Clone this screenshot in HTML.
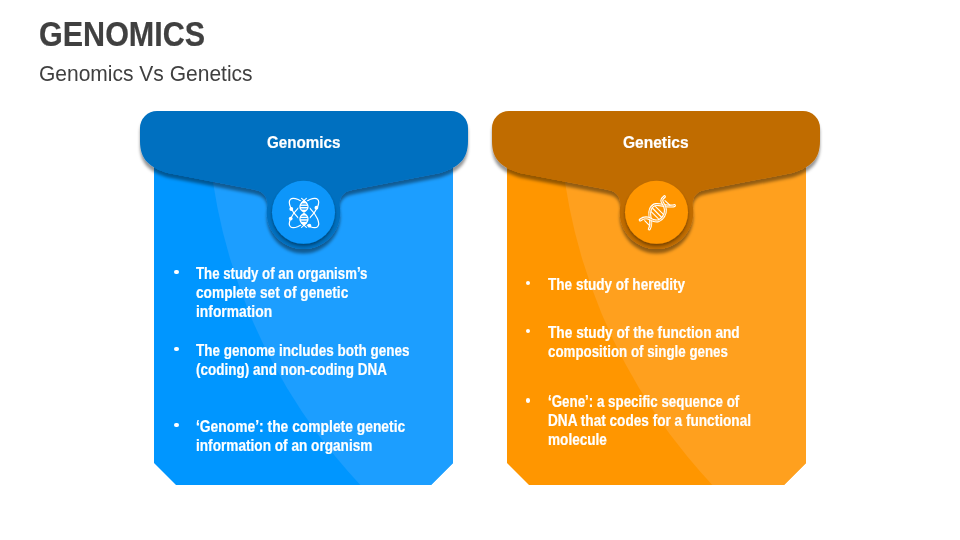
<!DOCTYPE html>
<html><head><meta charset="utf-8"><style>
html,body{margin:0;padding:0;background:#fff;}
body{width:960px;height:540px;position:relative;overflow:hidden;}
svg{position:absolute;left:0;top:0;}
.t{position:absolute;white-space:pre;font-family:"Liberation Sans",sans-serif;line-height:1;transform-origin:0 0;-webkit-text-stroke:0.2px currentColor;}
.b{position:absolute;width:4.8px;height:4.8px;border-radius:50%;background:#fff;}
</style></head><body>
<svg width="960" height="540" viewBox="0 0 960 540">
<defs>
<filter id="sh" x="-20%" y="-20%" width="140%" height="150%"><feDropShadow dx="0" dy="4.5" stdDeviation="1.8" flood-color="#000" flood-opacity="0.42"/></filter>
<filter id="sh2" x="-30%" y="-30%" width="160%" height="170%"><feDropShadow dx="0" dy="2.2" stdDeviation="1.6" flood-color="#000" flood-opacity="0.4"/></filter>
</defs>

<defs><clipPath id="clip0"><path d="M154,150 H453 V463 L431,485 H176 L154,463 Z"/></clipPath></defs>
<path d="M154,150 H453 V463 L431,485 H176 L154,463 Z" fill="#0096FF"/>
<circle cx="773.3" cy="96.8" r="566.8" fill="#1C9EFF" clip-path="url(#clip0)"/>
<path d="M157,111 H451 A17,17 0 0 1 468,128 V141 C468,160 458,167.5 440,173 L357,189 C343,191 339.6,196 339.6,205 A36.8,36.8 0 1 1 267.4,205 C267.4,196 264,191 251,189 L168,173 C150,167.5 140,160 140,141 V128 A17,17 0 0 1 157,111 Z" fill="#0070C0" filter="url(#sh)"/>
<circle cx="303.5" cy="212.3" r="31.5" fill="#0A96FA" filter="url(#sh2)"/>


<defs><clipPath id="clip352"><path d="M507,150 H806 V463 L784,485 H529 L507,463 Z"/></clipPath></defs>
<path d="M507,150 H806 V463 L784,485 H529 L507,463 Z" fill="#FF9600"/>
<circle cx="1125.3" cy="96.8" r="566.8" fill="#FFA01E" clip-path="url(#clip352)"/>
<path d="M509,111 H803 A17,17 0 0 1 820,128 V141 C820,160 810,167.5 792,173 L709,189 C696,191 692.6,196 692.6,205 A36.8,36.8 0 1 1 620.4,205 C620.4,196 617,191 604,189 L520,173 C502,167.5 492,160 492,141 V128 A17,17 0 0 1 509,111 Z" fill="#C06C00" filter="url(#sh)"/>
<circle cx="656.5" cy="212.3" r="31.5" fill="#FF9600" filter="url(#sh2)"/>

<g fill="none" stroke="#fff" stroke-width="1.2">
<ellipse cx="304" cy="213" rx="19.3" ry="7.6" transform="rotate(45 304 213)"/>
<ellipse cx="304" cy="213" rx="19.3" ry="7.6" transform="rotate(-45 304 213)"/>
</g>
<path d="M304,200.4 C310.2,203.5 310.2,209.7 304,212.8 C297.8,209.7 297.8,203.5 304,200.4 Z M304,212.8 C310.2,216 310.2,222.2 304,225.4 C297.8,222.2 297.8,216 304,212.8 Z" fill="#fff" stroke="#0A96FA" stroke-width="2.6"/>
<path d="M304,200.4 C310.2,203.5 310.2,209.7 304,212.8 C297.8,209.7 297.8,203.5 304,200.4 Z M304,212.8 C310.2,216 310.2,222.2 304,225.4 C297.8,222.2 297.8,216 304,212.8 Z" fill="#fff"/>
<defs><clipPath id="dnaclip"><path d="M304,202 C308.6,204.5 308.6,209 304,211.4 C299.4,209 299.4,204.5 304,202 Z M304,214.3 C308.6,216.8 308.6,221.2 304,223.8 C299.4,221.2 299.4,216.8 304,214.3 Z"/></clipPath></defs>
<g fill="#0A96FA" clip-path="url(#dnaclip)">
<rect x="299" y="203.4" width="10" height="1.1"/><rect x="299" y="205.9" width="10" height="1.1"/><rect x="299" y="208.5" width="10" height="1.1"/>
<rect x="299" y="215.6" width="10" height="1.1"/><rect x="299" y="218.1" width="10" height="1.1"/><rect x="299" y="220.7" width="10" height="1.1"/>
</g>
<g stroke="#fff" stroke-width="1.1" stroke-linecap="round">
<path d="M301.6,198.3 L306.4,202.6 M306.4,198.3 L301.6,202.6 M301.6,227.4 L306.4,223.2 M306.4,227.4 L301.6,223.2"/>
</g>
<g fill="#fff"><circle cx="291.3" cy="209" r="1.9"/><circle cx="316.4" cy="207.7" r="1.9"/><circle cx="290.7" cy="218.6" r="1.9"/><circle cx="309.4" cy="225.7" r="1.9"/></g>
<g fill="none" stroke-linecap="round" transform="translate(0.8,0)">
<path d="M648.5,229 C651,225 650,221 649.2,217 C648,211 650,205.5 655,204.6 C659,204 663,206 667,206 C670,206 672,206.5 673.6,205.6" stroke="#fff" stroke-width="3"/><path d="M648.5,229 C651,225 650,221 649.2,217 C648,211 650,205.5 655,204.6 C659,204 663,206 667,206 C670,206 672,206.5 673.6,205.6" stroke="#FF9600" stroke-width="0.8"/>
<path d="M639.4,220 C642,218 645.5,217.3 648.5,218.5 C651,220 654,221.5 657.5,220.8 C662,219.5 665,214 664.6,209.5 C664.3,205 661,203 661,200.5 C661,199 662.5,197.5 663.6,196.7" stroke="#fff" stroke-width="3"/><path d="M639.4,220 C642,218 645.5,217.3 648.5,218.5 C651,220 654,221.5 657.5,220.8 C662,219.5 665,214 664.6,209.5 C664.3,205 661,203 661,200.5 C661,199 662.5,197.5 663.6,196.7" stroke="#FF9600" stroke-width="0.8"/>
<path d="M664.2,200.6 L669.3,205.3 M643.9,220.6 L649,225.8 M652,208.5 L660.5,217 M650.6,211.8 L657.5,218.7 M654.8,206.6 L662.4,214.2" stroke="#fff" stroke-width="1.1"/>
</g>
</svg>
<div class="t" style="left:39.12px;top:17.28px;font-size:34.8px;font-weight:700;color:#404040;transform:scaleX(0.8770)">GENOMICS</div>
<div class="t" style="left:39.01px;top:64.06px;font-size:21.3px;font-weight:400;color:#404040;transform:scaleX(0.9860);-webkit-text-stroke:0">Genomics Vs Genetics</div>
<div class="t" style="left:266.57px;top:133.90px;font-size:16.4px;font-weight:700;color:#ffffff;transform:scaleX(0.9256)">Genomics</div>
<div class="t" style="left:623.45px;top:133.90px;font-size:16.4px;font-weight:700;color:#ffffff;transform:scaleX(0.9478)">Genetics</div>
<div class="t" style="left:196.20px;top:266.30px;font-size:15.6px;font-weight:700;color:#ffffff;transform:scaleX(0.8480)">The study of an organism’s</div>
<div class="t" style="left:196.02px;top:284.70px;font-size:15.6px;font-weight:700;color:#ffffff;transform:scaleX(0.8785)">complete set of genetic</div>
<div class="t" style="left:196.31px;top:303.50px;font-size:15.6px;font-weight:700;color:#ffffff;transform:scaleX(0.8875)">information</div>
<div class="t" style="left:196.20px;top:343.30px;font-size:15.6px;font-weight:700;color:#ffffff;transform:scaleX(0.8642)">The genome includes both genes</div>
<div class="t" style="left:196.14px;top:361.80px;font-size:15.6px;font-weight:700;color:#ffffff;transform:scaleX(0.8644)">(coding) and non-coding DNA</div>
<div class="t" style="left:196.11px;top:419.10px;font-size:15.6px;font-weight:700;color:#ffffff;transform:scaleX(0.8876)">‘Genome’: the complete genetic</div>
<div class="t" style="left:196.33px;top:438.00px;font-size:15.6px;font-weight:700;color:#ffffff;transform:scaleX(0.8740)">information of an organism</div>
<div class="t" style="left:548.20px;top:277.20px;font-size:15.6px;font-weight:700;color:#ffffff;transform:scaleX(0.8696)">The study of heredity</div>
<div class="t" style="left:548.40px;top:325.30px;font-size:15.6px;font-weight:700;color:#ffffff;transform:scaleX(0.8783)">The study of the function and</div>
<div class="t" style="left:548.15px;top:343.80px;font-size:15.6px;font-weight:700;color:#ffffff;transform:scaleX(0.8545)">composition of single genes</div>
<div class="t" style="left:548.14px;top:394.40px;font-size:15.6px;font-weight:700;color:#ffffff;transform:scaleX(0.8556)">‘Gene’: a specific sequence of</div>
<div class="t" style="left:548.43px;top:413.30px;font-size:15.6px;font-weight:700;color:#ffffff;transform:scaleX(0.8732)">DNA that codes for a functional</div>
<div class="t" style="left:548.33px;top:431.60px;font-size:15.6px;font-weight:700;color:#ffffff;transform:scaleX(0.8712)">molecule</div>
<div class="b" style="left:174.1px;top:269.6px"></div>
<div class="b" style="left:174.1px;top:346.7px"></div>
<div class="b" style="left:174.1px;top:422.7px"></div>
<div class="b" style="left:525.7px;top:280.5px"></div>
<div class="b" style="left:525.7px;top:328.7px"></div>
<div class="b" style="left:525.7px;top:397.8px"></div>
</body></html>
